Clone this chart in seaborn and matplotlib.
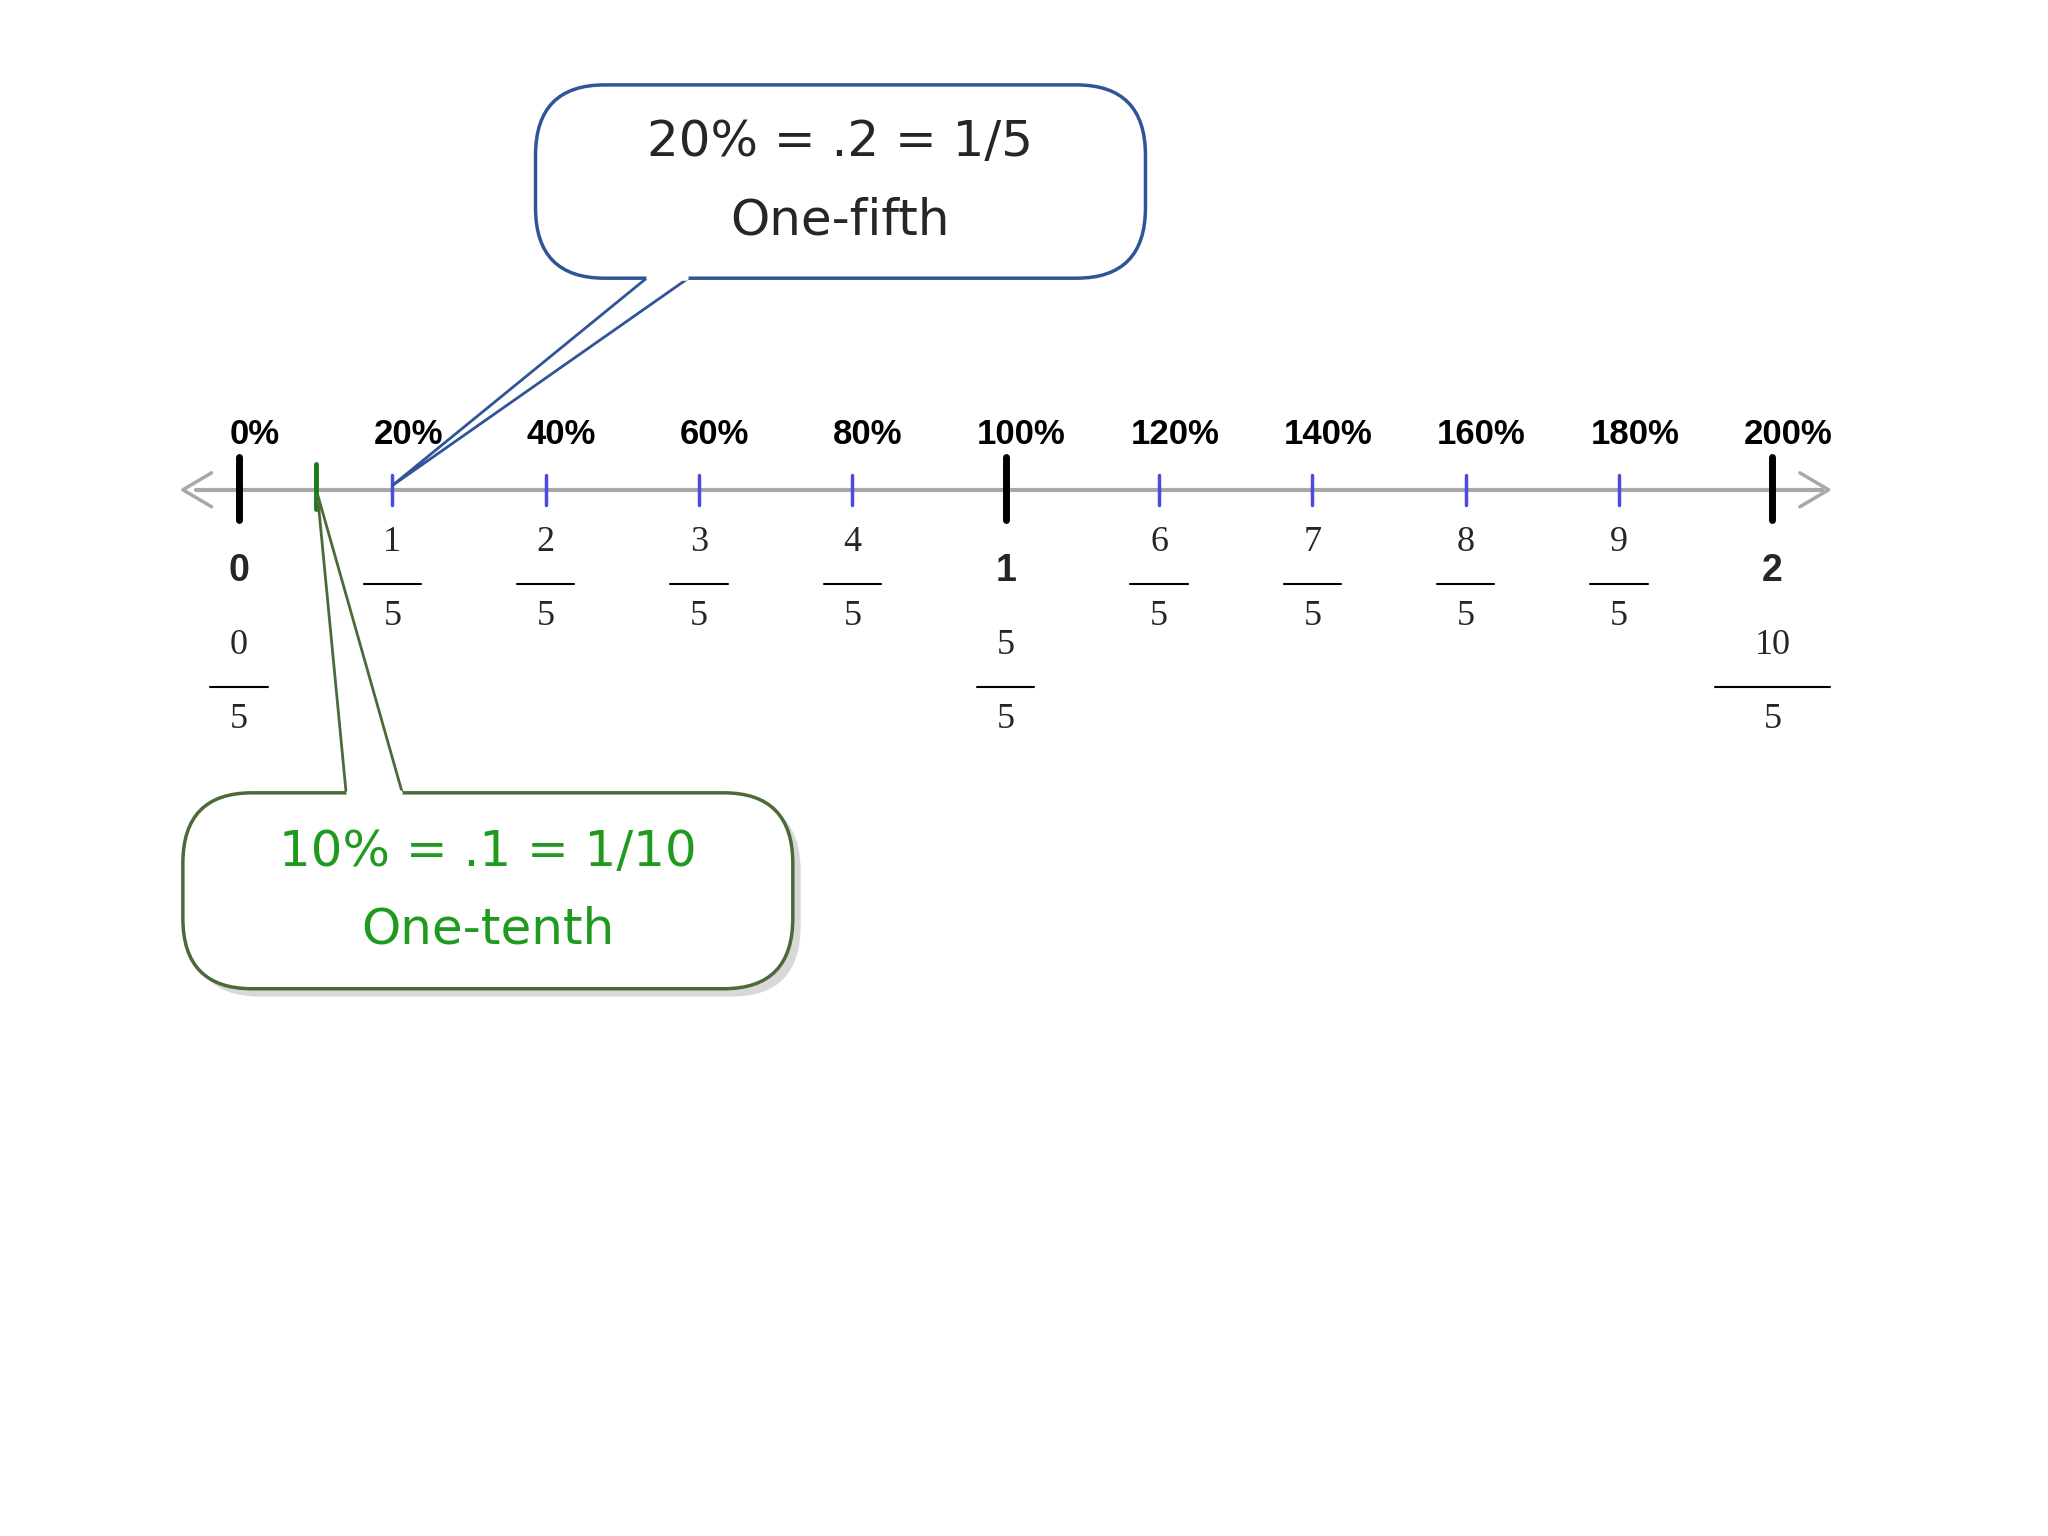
import matplotlib
matplotlib.use("Agg")
import matplotlib.pyplot as plt
import seaborn as sns
import pandas as pd
from matplotlib.patches import FancyBboxPatch, Polygon

sns.set_theme(style="white")
plt.rcParams['font.family'] = ['DejaVu Sans']

tick_values = [0, 0.2, 0.4, 0.6, 0.8, 1.0, 1.2, 1.4, 1.6, 1.8, 2.0]
percent_labels = ["0%", "20%", "40%", "60%", "80%", "100%", "120%", "140%", "160%", "180%", "200%"]
numerators = ["0", "1", "2", "3", "4", "5", "6", "7", "8", "9", "10"]
denominator = "5"
whole_values = [0, 1, 2]
whole_labels = ["0", "1", "2"]
tenth_value = 0.1
callout_fifth = ["20% = .2 = 1/5", "One-fifth"]
callout_tenth = ["10% = .1 = 1/10", "One-tenth"]

U = 587.0  # px per unit (display scale)
def X(v):  # value -> data x
    return v

fig = plt.figure(figsize=(20.48, 15.36), dpi=100)
ax = fig.add_axes([0, 0, 1, 1])
ax.set_xlim(-183 / U, (1568 - 183) / U)
ax.set_ylim(1176, 0)
ax.axis("off")
px = lambda p: (p - 183) / U

# number line
line_df = pd.DataFrame({"x": [px(150), px(1395)], "y": [375, 375]})
sns.lineplot(data=line_df, x="x", y="y", ax=ax, color="#a8a8a8", lw=3, legend=False)
for xe, d in [(px(140), 1), (px(1400), -1)]:
    ax.plot([xe + d * 22 / U, xe, xe + d * 22 / U], [362, 375, 388], color="#a8a8a8", lw=2.5)

for v, pl, num in zip(tick_values, percent_labels, numerators):
    major = v in whole_values
    if major:
        ax.plot([v, v], [350, 398], color="black", lw=5)
    else:
        ax.plot([v, v], [364, 387], color="#4a4ae0", lw=2.5)
    ax.text(v + 12 / U, 333, pl, ha="center", va="center", fontsize=25, fontweight="bold",
            family="Liberation Sans", color="black")
    if major:
        ax.text(v, 437, whole_labels[whole_values.index(v)], ha="center", va="center",
                fontsize=27, fontweight="bold", family="Liberation Sans")
        yn, yb, yd = 494, 526, 551
    else:
        yn, yb, yd = 415, 447, 472
    w = (22 if len(num) == 1 else 44) / U
    ax.text(v, yn, num, ha="center", va="center", fontsize=26, family="Liberation Serif")
    ax.plot([v - w, v + w], [yb, yb], color="black", lw=1.5)
    ax.text(v, yd, denominator, ha="center", va="center", fontsize=26, family="Liberation Serif")

ax.plot([tenth_value, tenth_value], [355, 390], color="#1a7a1a", lw=3.5)

def callout(x0, y0, x1, y1, base, tip, ec, tc, lines, shadow=False):
    if shadow:
        ax.add_patch(FancyBboxPatch((px(x0 + 6), y0 + 6), px(x1) - px(x0), y1 - y0,
                                    boxstyle="round,pad=0,rounding_size=0.09", mutation_aspect=600,
                                    fc="#d8d8d8", ec="none", zorder=2))
    ax.add_patch(FancyBboxPatch((px(x0), y0), px(x1) - px(x0), y1 - y0,
                                boxstyle="round,pad=0,rounding_size=0.09", mutation_aspect=600,
                                fc="white", ec=ec, lw=2.5, zorder=3))
    ax.add_patch(Polygon([(px(base[0]), base[2]), (px(tip[0]), tip[1]), (px(base[1]), base[2])],
                         closed=False, fc="white", ec=ec, lw=2, zorder=4))
    ax.plot([px(base[0] + 2), px(base[1] - 2)], [base[2], base[2]], color="white", lw=4, zorder=5)
    yc = (y0 + y1) / 2
    ax.text(px((x0 + x1) / 2), yc - 30, lines[0], ha="center", va="center", fontsize=36,
            color=tc, zorder=6)
    ax.text(px((x0 + x1) / 2), yc + 30, lines[1], ha="center", va="center", fontsize=36,
            color=tc, zorder=6)

callout(410, 65, 877, 213, (495, 527, 213), (300, 372), "#2f5597", "#262626", callout_fifth)
callout(140, 607, 607, 757, (265, 308, 607), (243, 378), "#4a6a3a", "#1f9a1f", callout_tenth, shadow=True)

fig.savefig("out.png", dpi=100)
